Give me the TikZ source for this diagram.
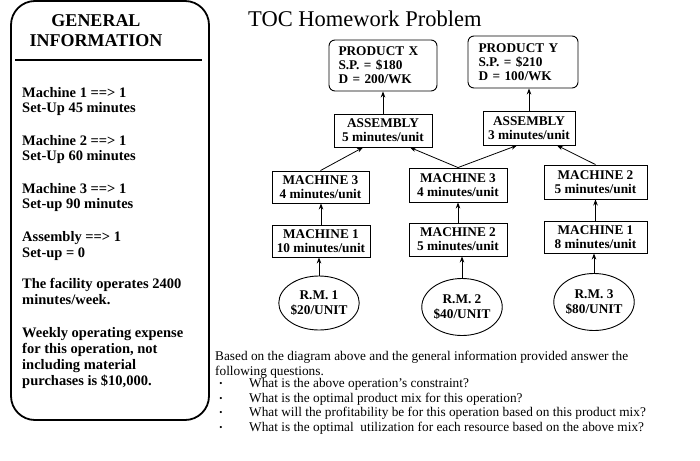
\documentclass[tikz,border=0pt]{standalone}
\usepackage{fontspec}
\setmainfont{Liberation Serif}
\usetikzlibrary{arrows.meta,shapes.geometric}
\begin{document}
\begin{tikzpicture}[x=1pt,y=-1pt,
  flowbox/.style={draw, line width=0.9pt, inner sep=0pt, align=center,
    font=\bfseries\fontsize{13.3}{13.8}\selectfont},
  prodbox/.style={flowbox, rounded corners=6pt, align=left, text width=89pt,
    font=\bfseries\fontsize{13.3}{14}\selectfont},
  rmnode/.style={draw, line width=0.9pt, ellipse, inner sep=0pt, align=center,
    font=\bfseries\fontsize{13.3}{15}\selectfont},
  flow/.style={-{Stealth[length=6pt,width=4.5pt]}, line width=0.8pt},
  info/.style={anchor=base west, inner sep=0pt, font=\bfseries\fontsize{14.5}{15}\selectfont},
  qtext/.style={anchor=base west, inner sep=0pt, font=\fontsize{13.3}{14}\selectfont},
  bul/.style={anchor=center, inner sep=0pt, font=\fontsize{9}{10}\selectfont}
]
\useasboundingbox[fill=white] (0,0) rectangle (700,460);

% general information panel
\draw[line width=1.8pt, rounded corners=24pt] (11,1) rectangle (209,420);
\draw[line width=1.8pt] (15,60) -- (202,60);
\node[anchor=base, inner sep=0pt, font=\bfseries\fontsize{18}{19}\selectfont] (g1) at (96,27) {GENERAL};
\node[anchor=base, inner sep=0pt, font=\bfseries\fontsize{18}{19}\selectfont] (g2) at (96,46) {INFORMATION};

\node[info] (i1) at (22,97) {Machine 1 ==> 1};
\node[info] (i2) at (22,112.5) {Set-Up 45 minutes};
\node[info] (i3) at (22,145) {Machine 2 ==> 1};
\node[info] (i4) at (22,160.5) {Set-Up 60 minutes};
\node[info] (i5) at (22,193) {Machine 3 ==> 1};
\node[info] (i6) at (22,208.5) {Set-up 90 minutes};
\node[info] (i7) at (22,241) {Assembly ==> 1};
\node[info] (i8) at (22,257) {Set-up = 0};
\node[info] (i9) at (22,288.5) {The facility operates 2400};
\node[info] (i10) at (22,304.5) {minutes/week.};
\node[info] (i11) at (22,337) {Weekly operating expense};
\node[info] (i12) at (22,353) {for this operation, not};
\node[info] (i13) at (22,369) {including material};
\node[info] (i14) at (22,385) {purchases is \$10,000.};

% title
\node[anchor=base west, inner sep=0pt, font=\fontsize{22.5}{24}\selectfont] (title) at (248,27) {TOC Homework Problem};

% products
\node[prodbox, minimum width=108pt, minimum height=51pt] (px) at (383,65.5) {PRODUCT X\\S.P. = \$180\\D = 200/WK};
\node[prodbox, minimum width=110pt, minimum height=52pt] (py) at (523,62) {PRODUCT Y\\S.P. = \$210\\D = 100/WK};

% assembly
\node[flowbox, minimum width=98pt, minimum height=33pt] (ax) at (383,130.5) {ASSEMBLY\\5 minutes/unit};
\node[flowbox, minimum width=92pt, minimum height=34pt] (ay) at (529,128) {ASSEMBLY\\3 minutes/unit};

% machines upper row
\node[flowbox, minimum width=97pt, minimum height=32pt] (m3a) at (320.5,187) {MACHINE 3\\4 minutes/unit};
\node[flowbox, minimum width=98pt, minimum height=34pt] (m3b) at (458,185) {MACHINE 3\\4 minutes/unit};
\node[flowbox, minimum width=103pt, minimum height=34pt] (m2c) at (595.5,182) {MACHINE 2\\5 minutes/unit};

% machines lower row
\node[flowbox, minimum width=98pt, minimum height=32pt] (m1a) at (321,241) {MACHINE 1\\10 minutes/unit};
\node[flowbox, minimum width=98pt, minimum height=33pt] (m2b) at (458,239.5) {MACHINE 2\\5 minutes/unit};
\node[flowbox, minimum width=103pt, minimum height=32pt] (m1c) at (595.5,237) {MACHINE 1\\8 minutes/unit};

% raw materials
\node[rmnode, minimum width=72pt, minimum height=54pt] (rm1) at (319,303) {R.M. 1\\\$20/UNIT};
\node[rmnode, minimum width=74pt, minimum height=57pt] (rm2) at (462,307) {R.M. 2\\\$40/UNIT};
\node[rmnode, minimum width=76pt, minimum height=57pt] (rm3) at (594,302) {R.M. 3\\\$80/UNIT};

% connectors
\draw[flow] (ax.north) -- (ax.north |- px.south);
\draw[flow] (ay.north) -- (ay.north |- py.south);
\draw[flow] (m3a.north) -- ([xshift=-20pt]ax.south);
\draw[flow] (m3b.north) -- ([xshift=27pt]ax.south);
\draw[flow] (m3b.north) -- ([xshift=-12pt]ay.south);
\draw[flow] (m2c.north) -- ([xshift=28pt]ay.south);
\draw[flow] (m1a.north) -- (m1a.north |- m3a.south);
\draw[flow] (m2b.north) -- (m2b.north |- m3b.south);
\draw[flow] (m1c.north) -- (m1c.north |- m2c.south);
\draw[flow] (rm1.north) -- (rm1.north |- m1a.south);
\draw[flow] (rm2.north) -- (rm2.north |- m2b.south);
\draw[flow] (rm3.north) -- (rm3.north |- m1c.south);

% questions
\node[qtext] (q0) at (215,360) {\makebox[413pt][s]{Based on the diagram above and the general information provided answer the}};
\node[qtext] (q1) at (215,375) {following questions.};
\node[bul] (b1) at (221,384) {\textbullet};
\node[bul] (b2) at (221,399) {\textbullet};
\node[bul] (b3) at (221,413) {\textbullet};
\node[bul] (b4) at (221,428) {\textbullet};
\node[qtext] (q2) at (249,387) {What is the above operation's constraint?};
\node[qtext] (q3) at (249,402) {What is the optimal product mix for this operation?};
\node[qtext] (q4) at (249,416) {What will the profitability be for this operation based on this product mix?};
\node[qtext] (q5) at (249,431) {What is the optimal\ \ utilization for each resource based on the above mix?};
\end{tikzpicture}
\end{document}
